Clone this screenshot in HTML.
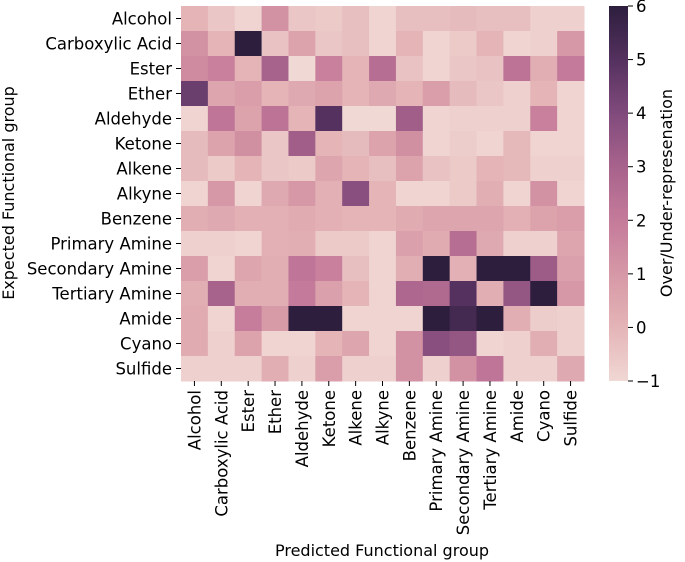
<!DOCTYPE html>
<html><head><meta charset="utf-8"><style>
body{margin:0;background:#fff;}
svg{display:block;font-family:"DejaVu Sans","Liberation Sans",sans-serif;}
</style></head><body>
<svg id="chart" width="685" height="562" viewBox="0 0 685 562" xmlns="http://www.w3.org/2000/svg">
<defs><linearGradient id="cbgrad" x1="0" y1="1" x2="0" y2="0"></linearGradient></defs>
<g id="cells"></g>
<g id="ylabels"></g>
<g id="xlabels"></g>
<text x="382" y="556" font-size="16" text-anchor="middle">Predicted Functional group</text>
<text transform="translate(14,193) rotate(-90)" font-size="16" text-anchor="middle">Expected Functional group</text>
<g id="colorbar"></g>
<text transform="translate(672,193) rotate(-90)" font-size="16" text-anchor="middle">Over/Under-represenation</text>
</svg>
<script>
const categories=["Alcohol","Carboxylic Acid","Ester","Ether","Aldehyde","Ketone","Alkene","Alkyne","Benzene","Primary Amine","Secondary Amine","Tertiary Amine","Amide","Cyano","Sulfide"];
const rowAlcohol=[0,-0.5,-0.9,1.2,-0.5,-0.6,-0.3,-0.9,-0.3,-0.3,-0.2,-0.3,-0.3,-0.8,-0.8];
const rowCarboxylic=[1.2,0,6,-0.4,0.6,-0.5,-0.3,-0.9,0,-0.9,-0.6,0,-0.9,-0.8,1.0];
const rowEster=[1.4,1.8,0,3.0,-1,1.8,0,2.5,-0.4,-0.9,-0.5,-0.4,2.3,0.2,2.0];
const rowEther=[4.5,0.5,0.8,0,0.4,0.6,0,0.4,0,0.8,-0.2,-0.5,-0.8,0,-0.9];
const rowAldehyde=[-0.9,2.2,0.6,2.3,0,5.0,-1,-1,3.2,-0.9,-0.8,-0.8,-0.8,1.8,-0.9];
const rowKetone=[-0.2,0.6,1.3,-0.5,3.2,0,-0.2,0.6,1.3,-0.9,-0.7,-0.9,-0.1,-0.9,-0.9];
const rowAlkene=[-0.2,-0.6,0,-0.5,-0.6,0.5,0,-0.3,0.6,-0.4,-0.6,0,-0.1,-0.8,-0.8];
const rowAlkyne=[-0.9,1.0,-0.9,0.4,1.0,0.1,3.8,0,-0.9,-0.9,-0.6,0.2,-0.9,1.2,-0.9];
const rowBenzene=[0.2,0.4,0.1,0.1,0.3,0.1,0,0,0.3,0.5,0.5,0.5,0.1,0.6,0.8];
const rowPrimary=[-0.8,-0.8,-0.9,0.1,0.2,-0.6,-0.6,-0.9,0.7,0.3,2.5,0.4,-0.8,-0.8,0.5];
const rowSecondary=[0.8,-0.9,0.5,0.2,2.2,1.8,-0.3,-0.9,0.2,6,0.1,6,6,3.3,0.7];
const rowTertiary=[0.2,3.0,0.2,0.2,2.0,0.7,0,-0.9,2.8,2.7,5,0.2,3.5,6,1.0];
const rowAmide=[0.3,-0.9,1.9,0.9,6,6,-0.9,-0.9,-0.9,6,5.4,6,0.2,-0.7,-0.8];
const rowCyano=[0.3,-0.8,0.6,-0.9,-0.9,0,0.5,-0.9,1.2,3.8,3.5,-0.9,-0.8,0.2,-0.8];
const rowSulfide=[-0.8,-0.8,-0.8,0.2,-0.8,0.8,-0.8,-0.8,1.2,-0.8,1.2,2.2,-0.8,-0.8,0.4];
const values=[rowAlcohol,rowCarboxylic,rowEster,rowEther,rowAldehyde,rowKetone,rowAlkene,rowAlkyne,rowBenzene,rowPrimary,rowSecondary,rowTertiary,rowAmide,rowCyano,rowSulfide];
const cbTicks=[-1,0,1,2,3,4,5,6];

const NS="http://www.w3.org/2000/svg";
const X0=181,X1=584,Y0=6,Y1=381,VMIN=-1,VMAX=6;
const n=categories.length, cw=(X1-X0)/n, ch=(Y1-Y0)/n;
const xPos=i=>X0+i*cw, yPos=i=>Y0+i*ch;
const stops=[[240,216,212],[228,180,183],[214,152,166],[196,122,154],[168,99,140],[128,74,124],[84,49,94],[45,30,62]];
function color(v){let t=Math.max(0,Math.min(1,(v-VMIN)/(VMAX-VMIN)))*(stops.length-1);let i=Math.min(Math.floor(t),stops.length-2),f=t-i;const c=stops[i].map((a,k)=>Math.round(a+(stops[i+1][k]-a)*f));return `rgb(${c[0]},${c[1]},${c[2]})`;}
function mk(tag,attrs,parent){const e=document.createElementNS(NS,tag);for(const k in attrs)e.setAttribute(k,attrs[k]);parent.appendChild(e);return e;}
const cells=document.getElementById('cells');
values.forEach((row,r)=>row.forEach((v,c)=>{
  const e=mk('rect',{x:xPos(c),y:yPos(r),width:cw+0.5,height:ch+0.5,fill:color(v)},cells);
  
  
}));
const yl=document.getElementById('ylabels'), xl=document.getElementById('xlabels');
categories.forEach((name,i)=>{
  const cy=yPos(i)+ch/2;
  mk('line',{x1:X0-5,x2:X0,y1:cy,y2:cy,stroke:'#000','stroke-width':1},yl);
  const t=mk('text',{x:X0-9,y:cy+6,'font-size':16.5,'text-anchor':'end'},yl);t.textContent=name;
  
  
  const cx=xPos(i)+cw/2;
  mk('line',{x1:cx,x2:cx,y1:Y1,y2:Y1+5,stroke:'#000','stroke-width':1},xl);
  const u=mk('text',{transform:`translate(${cx+6},${Y1+9}) rotate(-90)`,'font-size':16.5,'text-anchor':'end'},xl);u.textContent=name;
  
  
});
const g=document.getElementById('cbgrad');
for(let k=0;k<=20;k++){const v=VMIN+(VMAX-VMIN)*k/20;mk('stop',{offset:(k/20),'stop-color':color(v)},g);}
const cb=document.getElementById('colorbar');
const CBX=609,CBW=19;
mk('rect',{x:CBX,y:Y0,width:CBW,height:Y1-Y0,fill:'url(#cbgrad)'},cb);
cbTicks.forEach(v=>{
  const y=Y1-(v-VMIN)/(VMAX-VMIN)*(Y1-Y0);
  mk('line',{x1:CBX+CBW,x2:CBX+CBW+5,y1:y,y2:y,stroke:'#000','stroke-width':1},cb);
  const t=mk('text',{x:CBX+CBW+8,y:y+6,'font-size':16.5},cb);t.textContent=v<0?'\u2212'+Math.abs(v):String(v);
  
  
});
</script>
</body></html>
